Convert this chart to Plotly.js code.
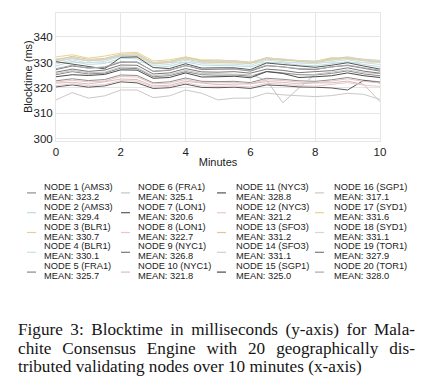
<!DOCTYPE html>
<html>
<head>
<meta charset="utf-8">
<script src="https://cdn.plot.ly/plotly-3.0.1.min.js"></script>
<style>
  html, body { margin: 0; padding: 0; background: #fff; }
  #chart { position: absolute; left: 0; top: 0; width: 437px; height: 386px; }
  #cap { position: absolute; left: 18px; top: 321px; width: 397px;
         font-family: "Liberation Serif", "DejaVu Serif", serif; font-size: 17.2px;
         line-height: 18.7px; color: #151515; }
  #cap .j { text-align: justify; text-align-last: justify; }
</style>
</head>
<body>
<div id="chart"></div>
<div id="cap">
  <div class="j">Figure 3: Blocktime in milliseconds (y-axis) for Mala-</div>
  <div class="j">chite Consensus Engine with 20 geographically dis-</div>
  <div>tributed validating nodes over 10 minutes (x-axis)</div>
</div>
<script>
// ---------- data ----------
const minutes = [0, 0.5, 1, 1.5, 2, 2.5, 3, 3.5, 4, 4.5, 5, 5.5, 6, 6.5, 7, 7.5, 8, 8.5, 9, 9.5, 10];

const nodeLabels = [
  "NODE 1 (AMS3)", "NODE 2 (AMS3)", "NODE 3 (BLR1)", "NODE 4 (BLR1)", "NODE 5 (FRA1)",
  "NODE 6 (FRA1)", "NODE 7 (LON1)", "NODE 8 (LON1)", "NODE 9 (NYC1)", "NODE 10 (NYC1)",
  "NODE 11 (NYC3)", "NODE 12 (NYC3)", "NODE 13 (SFO3)", "NODE 14 (SFO3)", "NODE 15 (SGP1)",
  "NODE 16 (SGP1)", "NODE 17 (SYD1)", "NODE 18 (SYD1)", "NODE 19 (TOR1)", "NODE 20 (TOR1)"
];
const nodeMeans = ["323.2", "329.4", "330.7", "330.1", "325.7", "325.1", "320.6", "322.7", "326.8", "321.8",
                   "328.8", "321.2", "331.2", "331.1", "325.0", "317.1", "331.6", "331.1", "327.9", "328.0"];

const node1  = [322.8, 323.6, 322.9, 323.3, 325.1, 324.9, 322.0, 322.4, 323.9, 322.6, 322.5, 322.6, 322.1, 323.8, 323.4, 322.8, 322.6, 323.2, 324.1, 323.0, 322.4];
const node2  = [328.6, 330.4, 329.2, 329.6, 331.7, 331.4, 328.0, 328.5, 330.2, 329.0, 328.8, 328.7, 328.3, 330.0, 329.8, 329.0, 328.7, 329.6, 330.3, 329.2, 328.3];
const node3  = [330.4, 331.5, 330.6, 331.0, 332.8, 332.5, 329.4, 329.9, 331.3, 330.2, 330.0, 329.9, 329.6, 331.3, 330.8, 330.3, 330.0, 330.9, 331.6, 330.6, 330.1];
const node4  = [329.4, 331.0, 329.8, 330.4, 332.4, 332.0, 328.8, 329.2, 330.9, 329.6, 329.4, 329.3, 328.9, 330.9, 330.3, 329.7, 329.5, 330.2, 331.1, 329.9, 329.2];
const node5  = [325.2, 326.4, 325.5, 325.8, 327.8, 327.6, 324.4, 324.8, 326.4, 325.2, 325.0, 325.1, 324.6, 326.5, 325.9, 325.2, 325.1, 325.7, 326.7, 325.5, 324.8];
const node6  = [325.6, 326.8, 326.0, 326.2, 328.2, 328.0, 324.8, 325.3, 326.9, 325.7, 325.6, 325.5, 325.2, 323.0, 314.2, 320.0, 325.4, 326.2, 327.1, 326.0, 325.6];
const node7  = [320.4, 321.2, 320.3, 320.8, 322.4, 322.0, 319.8, 320.1, 321.5, 320.2, 320.1, 320.3, 319.8, 321.2, 320.9, 320.4, 320.3, 320.0, 319.2, 323.0, 322.0];
const node8  = [322.3, 323.0, 322.4, 322.7, 324.5, 324.3, 321.6, 321.9, 323.3, 322.1, 322.0, 322.2, 321.7, 323.2, 322.9, 322.3, 322.1, 322.7, 323.6, 322.6, 322.0];
const node9  = [326.2, 327.4, 326.5, 327.0, 329.0, 328.9, 325.5, 325.9, 327.6, 326.3, 326.2, 326.4, 325.8, 327.4, 326.9, 326.0, 326.4, 326.8, 327.9, 326.6, 325.8];
const node10 = [321.9, 322.2, 321.6, 322.4, 323.5, 323.3, 320.8, 321.1, 322.6, 321.9, 321.3, 321.5, 321.6, 322.5, 322.2, 321.6, 322.0, 322.0, 322.7, 321.4, 314.6];
const node11 = [330.3, 329.3, 328.4, 327.5, 332.0, 332.2, 328.0, 327.6, 329.5, 327.8, 327.9, 327.9, 327.2, 329.8, 329.2, 328.6, 328.1, 328.9, 329.9, 328.6, 327.4];
const node12 = [320.9, 321.6, 321.0, 321.3, 322.9, 322.7, 320.3, 320.6, 322.0, 320.8, 320.6, 320.8, 320.4, 321.8, 321.5, 320.9, 320.7, 321.3, 322.1, 321.1, 320.6];
const node13 = [331.0, 332.4, 331.2, 331.6, 333.2, 333.4, 330.0, 330.4, 332.0, 330.8, 330.5, 330.7, 330.1, 331.8, 331.2, 330.6, 330.5, 331.3, 332.2, 331.1, 330.2];
const node14 = [331.4, 332.0, 330.6, 331.2, 332.6, 333.0, 329.6, 330.1, 331.9, 330.4, 330.6, 330.2, 329.8, 331.9, 331.0, 330.8, 330.2, 331.6, 331.8, 331.3, 330.8];
const node15 = [324.4, 325.2, 324.9, 325.3, 327.1, 327.0, 323.8, 324.1, 325.9, 324.3, 324.4, 324.6, 324.0, 326.4, 325.7, 324.1, 324.4, 324.8, 325.9, 324.8, 324.1];
const node16 = [315.3, 318.2, 316.0, 316.9, 319.2, 319.2, 316.2, 316.9, 319.2, 317.9, 315.3, 316.0, 316.0, 318.0, 317.3, 317.0, 316.6, 317.0, 317.9, 317.5, 315.5];
const node17 = [332.2, 333.0, 331.7, 332.5, 333.7, 334.0, 330.6, 331.0, 332.2, 331.0, 331.0, 330.6, 329.9, 331.6, 331.0, 330.6, 330.4, 331.9, 331.4, 330.9, 330.4];
const node18 = [330.8, 331.6, 330.9, 331.4, 333.0, 332.8, 329.9, 330.3, 331.7, 330.6, 330.4, 330.5, 330.0, 331.7, 331.4, 330.7, 330.4, 331.0, 331.9, 330.9, 330.5];
const node19 = [327.2, 328.6, 327.9, 328.0, 330.1, 330.2, 326.5, 326.9, 328.8, 327.2, 327.3, 327.5, 326.6, 328.7, 328.3, 327.4, 327.2, 328.3, 328.8, 327.8, 326.6];
const node20 = [327.6, 328.9, 327.7, 328.3, 330.3, 330.0, 326.6, 327.1, 328.7, 327.5, 327.4, 327.3, 326.9, 328.9, 328.2, 327.6, 327.4, 328.1, 329.0, 327.9, 327.0];

const xTicks = [0, 2, 4, 6, 8, 10];
const yTicks = [300, 310, 320, 330, 340];

// ---------- styles ----------
const series = [node1, node2, node3, node4, node5, node6, node7, node8, node9, node10,
                node11, node12, node13, node14, node15, node16, node17, node18, node19, node20];
const lineColors = ["#8e8e8e", "#b9dde2", "#e3cf98", "#c6e2e6", "#8a8a8a",
                    "#c4c4c4", "#5a5a5a", "#e6c6c6", "#787878", "#dcbcbc",
                    "#555555", "#e8caca", "#d9c98e", "#cfcfcf", "#4a4a4a",
                    "#c9c9c9", "#e9d38c", "#d6d6d6", "#7c7c7c", "#ababab"];

const W = 437, H = 386;
const L = 56, R = 380, T = 13, B = 141;
const px2x = p => (p - L) / (R - L);
const py2y = p => (B - p) / (B - T);

const traces = series.map((ys, i) => ({
  x: minutes, y: ys, type: "scatter", mode: "lines", name: nodeLabels[i],
  line: { color: lineColors[i], width: 1 }, hoverinfo: "skip", showlegend: false
}));

// legend built as annotations + shapes (4 columns x 5 rows, column-major)
const colText = [43, 137, 235, 333];
const colSw = [27, 121, 217, 315];
const annotations = [];
const shapes = [];
const font = "Liberation Sans, Arial, sans-serif";
for (let i = 0; i < nodeLabels.length; i++) {
  const c = Math.floor(i / 5), r = i % 5;
  const y1 = 186.9 + r * 19.8, y2 = y1 + 10.0;
  annotations.push({ xref: "paper", yref: "paper", x: px2x(colText[c]), y: py2y(y1),
    xanchor: "left", yanchor: "middle", showarrow: false, borderpad: 0, text: nodeLabels[i],
    font: { family: font, size: 9.3, color: "#222" } });
  annotations.push({ xref: "paper", yref: "paper", x: px2x(colText[c]), y: py2y(y2),
    xanchor: "left", yanchor: "middle", showarrow: false, borderpad: 0, text: "MEAN: " + nodeMeans[i],
    font: { family: font, size: 9.3, color: "#222" } });
  const sy = (y1 + y2) / 2 + 1;
  shapes.push({ type: "line", xref: "paper", yref: "paper",
    x0: px2x(colSw[c]), x1: px2x(colSw[c] + 9), y0: py2y(sy), y1: py2y(sy),
    line: { color: lineColors[i], width: 1.2 } });
}
// y-axis title placed precisely
annotations.push({ xref: "paper", yref: "paper", x: px2x(28), y: py2y(77),
  xanchor: "center", yanchor: "middle", showarrow: false, textangle: -90, borderpad: 0,
  text: "Blocktime (ms)", font: { family: font, size: 11, color: "#222" } });

const layout = {
  width: W, height: H,
  margin: { l: L, r: W - R, t: T, b: H - B, pad: 0 },
  paper_bgcolor: "#ffffff", plot_bgcolor: "#ffffff",
  showlegend: false,
  font: { family: font, size: 11, color: "#222" },
  xaxis: {
    range: [0, 10], tickvals: xTicks, ticktext: xTicks.map(String),
    showgrid: true, gridcolor: "#e6e6e6", gridwidth: 1, zeroline: false,
    showline: true, linecolor: "#e6e6e6", mirror: true, ticks: "", ticklen: 0,
    tickfont: { family: font, size: 11.5, color: "#222" },
    title: { text: "Minutes", font: { family: font, size: 11, color: "#222" }, standoff: 1 }
  },
  yaxis: {
    range: [299.2, 349.4], tickvals: yTicks, ticktext: yTicks.map(String),
    showgrid: true, gridcolor: "#e6e6e6", gridwidth: 1, zeroline: false,
    showline: true, linecolor: "#e6e6e6", mirror: true, ticks: "", ticklen: 0,
    tickfont: { family: font, size: 11.5, color: "#222" }
  },
  annotations: annotations,
  shapes: shapes
};

Plotly.newPlot("chart", traces, layout, { staticPlot: true, displayModeBar: false });
</script>
</body>
</html>
